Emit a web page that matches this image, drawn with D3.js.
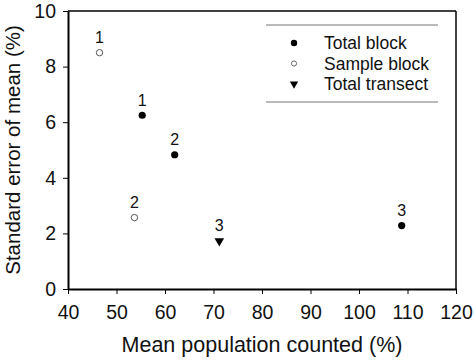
<!DOCTYPE html>
<html>
<head>
<meta charset="utf-8">
<script src="https://cdn.jsdelivr.net/npm/d3@7"></script>
<style>
  body { margin: 0; background: #fff; }
  svg { font-family: "Liberation Sans", Arial, sans-serif; }
</style>
</head>
<body>
<div id="chart"></div>
<script>
// Data
const seriesNames = ["Total block", "Sample block", "Total transect"];
const totalBlock = [
  { x: 55.3, y: 6.25, label: "1" },
  { x: 62.0, y: 4.83, label: "2" },
  { x: 108.8, y: 2.28, label: "3" }
];
const sampleBlock = [
  { x: 46.5, y: 8.5, label: "1" },
  { x: 53.7, y: 2.57, label: "2" }
];
const totalTransect = [
  { x: 71.2, y: 1.73, label: "3" }
];
const xTicks = [40, 50, 60, 70, 80, 90, 100, 110, 120];
const yTicks = [0, 2, 4, 6, 8, 10];

const W = 474, H = 361;
const MARGIN = { LEFT: 68, TOP: 11, RIGHT: 18, BOTTOM: 72 };
const width = W - MARGIN.LEFT - MARGIN.RIGHT;
const height = H - MARGIN.TOP - MARGIN.BOTTOM;

const svg = d3.select("#chart").append("svg")
  .attr("width", W).attr("height", H);
const g = svg.append("g").attr("transform", `translate(${MARGIN.LEFT},${MARGIN.TOP})`);

const x = d3.scaleLinear().domain([40, 120]).range([0, width]);
const y = d3.scaleLinear().domain([0, 10]).range([height, 0]);

// frame (top & right thinner)
g.append("line").attr("x1", 0).attr("x2", width).attr("y1", 0).attr("y2", 0)
  .attr("stroke", "#000").attr("stroke-width", 1.5);
g.append("line").attr("x1", width).attr("x2", width).attr("y1", 0).attr("y2", height)
  .attr("stroke", "#000").attr("stroke-width", 1.5);

// axes
const xAxis = g.append("g").attr("transform", `translate(0,${height})`)
  .call(d3.axisBottom(x).tickValues(xTicks).tickSize(5).tickSizeOuter(0).tickPadding(11));
const yAxis = g.append("g")
  .call(d3.axisLeft(y).tickValues(yTicks).tickSize(5).tickSizeOuter(0).tickPadding(7));
[xAxis, yAxis].forEach(a => {
  a.select(".domain").attr("stroke", "#000").attr("stroke-width", 2);
  a.selectAll(".tick line").attr("stroke", "#000").attr("stroke-width", 1);
  a.selectAll(".tick text").attr("fill", "#111").style("font-size", "19.5px")
    .style("font-family", "'Liberation Sans', Arial, sans-serif");
});

// axis titles
svg.append("text")
  .attr("x", 262).attr("y", 352)
  .attr("text-anchor", "middle").style("font-size", "21.5px").attr("fill", "#111")
  .text("Mean population counted (%)");
svg.append("text")
  .attr("transform", `translate(20,${MARGIN.TOP + height / 2}) rotate(-90)`)
  .attr("text-anchor", "middle").style("font-size", "20.5px").attr("fill", "#111")
  .text("Standard error of mean (%)");

// points
const triangle = d3.symbol().type(d3.symbolTriangle).size(40);
function drawSeries(data, kind) {
  const sel = g.append("g").selectAll("g").data(data).enter().append("g")
    .attr("transform", d => `translate(${x(d.x)},${y(d.y)})`);
  if (kind === "filled") {
    sel.append("circle").attr("r", 3.6).attr("fill", "#000");
  } else if (kind === "open") {
    sel.append("circle").attr("r", 3.2).attr("fill", "#fff").attr("stroke", "#444").attr("stroke-width", 0.9);
  } else {
    sel.append("path").attr("d", triangle).attr("transform", "rotate(180)").attr("fill", "#000");
  }
  sel.append("text").attr("y", -9.5).attr("text-anchor", "middle")
    .style("font-size", "16px").attr("fill", "#111").text(d => d.label);
}
drawSeries(totalBlock, "filled");
drawSeries(sampleBlock, "open");
drawSeries(totalTransect, "tri");

// legend
const leg = svg.append("g");
leg.append("line").attr("x1", 266).attr("x2", 438).attr("y1", 25).attr("y2", 25)
  .attr("stroke", "#777").attr("stroke-width", 1.2);
leg.append("line").attr("x1", 266).attr("x2", 438).attr("y1", 102).attr("y2", 102)
  .attr("stroke", "#777").attr("stroke-width", 1.2);
const kinds = ["filled", "open", "tri"];
const items = leg.selectAll("g.item").data(seriesNames).enter().append("g")
  .attr("class", "item")
  .attr("transform", (d, i) => `translate(294,${43 + i * 20.5})`);
items.each(function (d, i) {
  const it = d3.select(this);
  if (kinds[i] === "filled") it.append("circle").attr("r", 3.2).attr("fill", "#000");
  else if (kinds[i] === "open") it.append("circle").attr("r", 2.6).attr("fill", "#fff").attr("stroke", "#444").attr("stroke-width", 0.8);
  else it.append("path").attr("d", d3.symbol().type(d3.symbolTriangle).size(30)).attr("transform", "rotate(180)").attr("fill", "#000");
});
items.append("text").attr("x", 30).attr("dy", "0.35em")
  .style("font-size", "17.5px").attr("fill", "#111").text(d => d);
</script>
</body>
</html>
